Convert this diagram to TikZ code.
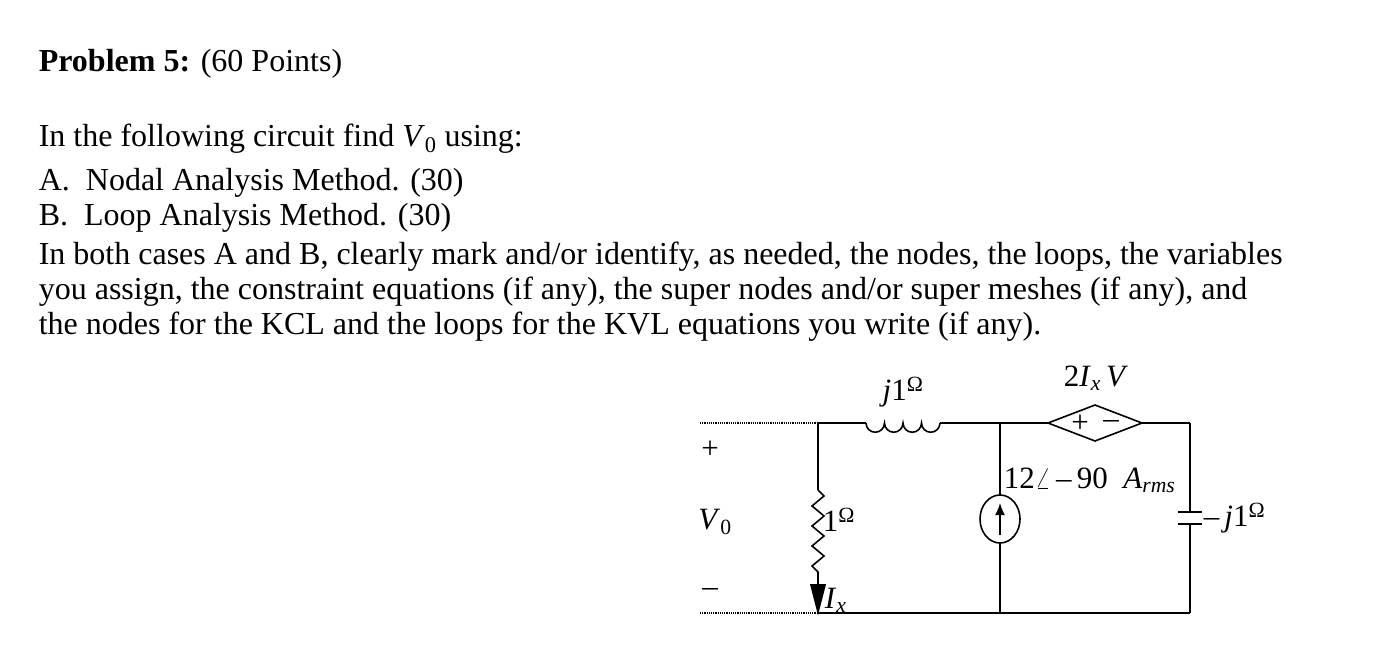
\documentclass[tikz,border=0pt]{standalone}
\usepackage{fontspec}
\setmainfont{Liberation Serif}
\usetikzlibrary{arrows.meta}
\begin{document}
\begin{tikzpicture}[x=1pt,y=-1pt,line width=1.6pt,
  txt/.style={anchor=base west,inner sep=0,font=\fontsize{32}{38}\selectfont},
  lab/.style={inner sep=0,font=\fontsize{31}{36}\selectfont},
  dot/.style={line width=1.2pt,densely dotted}]
\useasboundingbox (0,0) rectangle (1396,648);
\node[txt] (t0) at (38,71) {\textbf{Problem 5:} (60 Points)};
\node[txt] (t1) at (38,146) {In the following circuit find \textit{V}\textsubscript{0} using:};
\node[txt] (t2) at (38,190) {A.\ \ Nodal Analysis Method. (30)};
\node[txt] (t3) at (38,225) {B.\ \ Loop Analysis Method. (30)};
\node[txt] (t4) at (38,264) {In both cases A and B, clearly mark and/or identify, as needed, the nodes, the loops, the variables};
\node[txt] (t5) at (38,299) {you assign, the constraint equations (if any), the super nodes and/or super meshes (if any), and};
\node[txt] (t6) at (38,334) {the nodes for the KCL and the loops for the KVL equations you write (if any).};
% circuit
\coordinate (tl) at (818,423); \coordinate (bl) at (818,613);
\coordinate (tm) at (1000,423); \coordinate (bm) at (1000,613);
\coordinate (tr) at (1190,423); \coordinate (br) at (1190,613);
\coordinate (dl1) at (700,423); \coordinate (dl2) at (700,613);
\draw[dot] (dl1) -- (tl); \draw[dot] (dl2) -- (bl);
% inductor
\coordinate (i1) at (866,423); \coordinate (i2) at (940,423);
\draw (tl) -- (i1);
\draw (866,423) arc(180:0:9.25) arc(180:0:9.25) arc(180:0:9.25) arc(180:0:9.25);
\draw (i2) -- (tm);
% diamond
\draw (tm) -- (1048,423) -- (1095,405) -- (1142,423) -- (1095,441) -- (1048,423);
\draw (1142,423) -- (tr);
\node[lab] (pl) at (1080,424) {+};
\node[lab] (mi) at (1111,424) {–};
\node[lab] (dl) at (1096,378) {2\textit{I}\textsubscript{\textit{x}}\,\textit{V}};
% right branch with capacitor
\draw (tr) -- (1190,512);
\draw (1190,524) -- (br);
\draw (1178,512) -- (1202,512); \draw (1178,524) -- (1202,524);
\node[lab,anchor=west] (cl) at (1203,518) {–\,\textit{j}1\textsuperscript{Ω}};
% current source
\draw (tm) -- (1000,495); \draw (1000,543) -- (bm);
\draw (1000,519) ellipse (20 and 24);
\draw[-{Latex[length=12pt,width=10pt]}] (1000,535) -- (1000,503);
\node[lab,anchor=west] (cs) at (1003,480) {12$\angle$\,–\,90\ \ \textit{A}\textsubscript{\textit{rms}}};
% resistor
\draw (tl) -- (818,490);
\draw (818,490) -- (824,496) -- (812,506) -- (824,516) -- (812,526) -- (824,536) -- (812,546) -- (824,556) -- (812,566) -- (818,572) -- (818,590);
\draw[fill=black] (811,585) -- (825,585) -- (818,612) -- cycle;
\node[lab,anchor=west] (rl) at (822,520) {1\textsuperscript{Ω}};
\node[lab,anchor=west] (ix) at (824,600) {\textit{I}\textsubscript{\textit{x}}};
\node[lab] (il) at (903,392) {\textit{j}1\textsuperscript{Ω}};
\draw (bl) -- (br);
\node[lab] (vp) at (710,450) {+};
\node[lab] (v0) at (715,522) {\textit{V}\textsubscript{0}};
\node[lab] (vm) at (710,592) {–};
\end{tikzpicture}
\end{document}
